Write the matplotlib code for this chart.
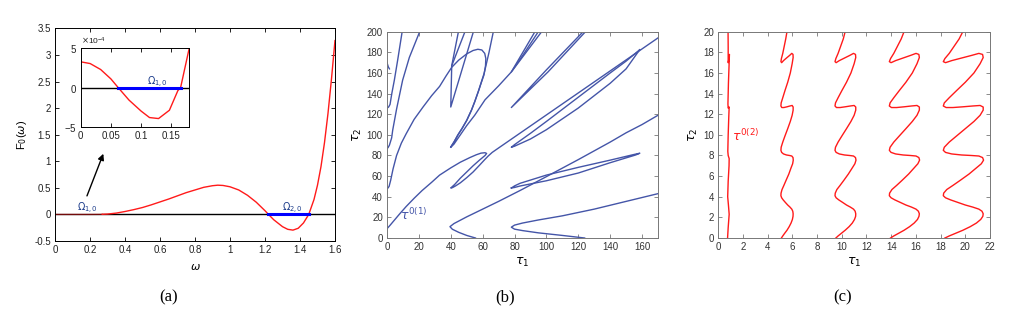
import matplotlib.pyplot as plt
import matplotlib.ticker as mticker

plt.rcParams["font.family"] = ["Liberation Sans", "DejaVu Sans"]
plt.rcParams["axes.unicode_minus"] = False
plt.rcParams["font.size"] = 7

# ---------------- panel (a): F0(omega) ----------------
omega = [0, 0.1, 0.2, 0.27, 0.3, 0.35, 0.4, 0.45, 0.5, 0.55, 0.6, 0.65, 0.7,
         0.75, 0.8, 0.85, 0.9, 0.93, 0.96, 1.0, 1.05, 1.1, 1.15, 1.2, 1.22,
         1.25, 1.3, 1.33, 1.36, 1.39, 1.42, 1.45, 1.48, 1.5, 1.52, 1.54,
         1.56, 1.58, 1.6]
f0 = [0, 0, 0, 0.003, 0.007, 0.025, 0.055, 0.09, 0.13, 0.18, 0.235, 0.29,
      0.35, 0.41, 0.46, 0.51, 0.54, 0.55, 0.545, 0.52, 0.46, 0.36, 0.23,
      0.07, 0.0, -0.1, -0.23, -0.28, -0.295, -0.26, -0.16, 0.0, 0.28, 0.55,
      0.9, 1.35, 1.9, 2.55, 3.27]
omega_20 = [1.22, 1.45]

inset_omega = [0, 0.0156, 0.033, 0.05, 0.062, 0.08, 0.1, 0.114, 0.129,
               0.147, 0.161, 0.1656, 0.18]
inset_f0 = [3.28e-4, 3.06e-4, 2.3e-4, 1.1e-4, 0.0, -1.6e-4, -3.0e-4,
            -3.83e-4, -3.96e-4, -2.9e-4, -0.4e-4, 0.0, 5.06e-4]
omega_10 = [0.062, 0.1656]

# ---------------- panel (b): tau^{0(1)} curves ----------------
b_a_t1 = [0, 2, 5, 8, 12, 17, 22, 28, 33, 40, 46, 52, 56, 59, 61.5, 62.5,
          61.5, 58, 54, 50, 46, 42.5, 40.5, 40, 41, 43, 46, 50, 54, 58, 61,
          63.5, 66, 70, 170]
b_a_t2 = [9, 12.5, 18, 23.5, 30.5, 38.5, 46, 54, 61, 68, 73.5, 78, 80.7,
          82.3, 82.7, 82, 80, 75.5, 70, 64, 58, 52, 49.2, 48.5, 48.8, 50.5,
          53.5, 58.5, 64, 70.5, 75.5, 79.5, 83, 87.3, 194]

b_b_t1 = [0, 0.5, 1.3, 2.3, 3.8, 6, 9, 12, 17, 22.6, 28, 33, 37, 40.6, 45,
          50, 54, 57, 59.5, 61.3, 62, 61.8, 60.8, 59, 57.5, 55, 53, 50, 47,
          44.5, 42, 40.5, 40, 42, 46, 50, 55, 61.5, 70, 78, 86, 94.9]
b_b_t2 = [48, 48.3, 50, 56, 67, 80, 92, 101, 115, 127, 138, 147, 157, 165.5,
          172.5, 178.5, 181.8, 183, 182.3, 179, 174, 167, 158, 150, 143, 132,
          124, 114, 106, 100, 93, 89.5, 88, 91, 100, 109, 119, 134, 147.5,
          161, 179, 200]

b_c_t1 = [0, 0.6, 1.5, 2.9, 3.6, 6, 9.8, 14, 20.5]
b_c_t2 = [87, 87.5, 90, 97, 104.8, 125, 153, 175, 200]

b_d_t1 = [0, 0.4, 1.0, 1.9, 3, 4.6, 6.7, 9.5]
b_d_t2 = [126, 126.3, 127, 129.5, 140, 153, 172.6, 200]

b_e_t1 = [0, 0.8, 1.5]
b_e_t2 = [170, 166, 164]

b_f_t1 = [44.8, 40.6, 40, 54.2]
b_f_t2 = [200, 167, 127, 200]

b_g_t1 = [40.6, 48.9]
b_g_t2 = [167, 200]

b_h_t1 = [40, 42, 44.5, 47, 50, 53, 55, 57.5, 61, 64, 66.7]
b_h_t2 = [88, 93, 100, 106, 114, 124, 132, 143, 160, 180, 200]

b_i_t1 = [92.8, 78, 97]
b_i_t2 = [200, 161, 200]

b_j_t1 = [123, 100, 78, 101, 124.5]
b_j_t2 = [200, 163, 126.5, 161, 200]

b_k_t1 = [158.5, 150, 140, 120, 100, 90, 80, 78, 80, 90, 100, 120, 140, 150,
          158.5]
b_k_t2 = [182.5, 171.5, 160, 136.5, 113, 101.5, 90.5, 88, 89, 96, 105, 126,
          150, 164, 182.5]

b_l_t1 = [78, 80, 83.4, 100, 120, 140, 155, 158.6, 156, 140, 120, 100, 83.4,
          80, 78]
b_l_t2 = [48.5, 50.5, 53, 61, 68.5, 75.5, 81, 82.2, 80.5, 73, 63, 55.5, 50.4,
          49, 48.5]

b_m_t1 = [55.5, 50, 45, 41, 39.5, 42, 50, 60, 70, 83.4, 100, 120, 140, 150,
          160, 170]
b_m_t2 = [0, 2.5, 5.5, 8.5, 11, 14, 20.5, 28, 35.5, 46, 59.5, 76, 93, 102,
          110, 119]

b_n_t1 = [124, 110, 95, 85, 80, 78, 80, 85, 95, 110, 130, 150, 170]
b_n_t2 = [0, 2.5, 5, 7.2, 8.6, 10.5, 12.5, 14.5, 17.5, 21.5, 28, 35.5, 43]

# ---------------- panel (c): tau^{0(2)} curves ----------------
c_t2 = [0, 0.2, 0.45, 0.75, 1.1, 1.45, 1.8, 2.1, 2.35, 2.6, 2.8, 3.0, 3.2,
        3.45, 3.7, 3.9, 4.1, 4.35, 4.7, 5.1, 5.6, 6.2, 6.8, 7.2, 7.55, 7.8,
        7.95, 8.0, 8.05, 8.15, 8.3, 8.5, 8.8, 9.3, 9.9, 10.6, 11.3, 11.9,
        12.4, 12.7, 12.85, 12.8, 12.72, 12.65, 12.65, 12.8, 13.1, 13.6, 14.3,
        15.1, 16.0, 16.9, 17.5, 17.8, 17.9, 17.7, 17.45, 17.2, 17.0, 17.1,
        17.4, 17.9, 18.6, 19.3, 20.0]

c1_t1 = [0.75, 0.8, 0.88, 0.82, 0.76, 0.8, 0.87, 0.88, 0.8, 0.77, 0.8, 0.85,
         0.88, 0.8, 0.78, 0.82, 0.87, 0.9, 0.85, 0.8, 0.8, 0.79]
c1_t2 = [0, 1.0, 2.3, 3.2, 4.0, 5.5, 7.0, 7.7, 8.0, 8.4, 10, 11.8, 12.7,
         12.6, 13.0, 15, 16.7, 17.8, 17.3, 17.0, 18.5, 20]

c2_t1 = [5.11, 5.22, 5.37, 5.56, 5.74, 5.89, 6.0, 6.05, 6.06, 6.03, 5.95,
         5.8, 5.62, 5.43, 5.25, 5.13, 5.07, 5.08, 5.16, 5.31, 5.49, 5.71,
         5.89, 6.02, 6.07, 6.05, 5.95, 5.77, 5.52, 5.28, 5.13, 5.07, 5.09,
         5.22, 5.40, 5.62, 5.83, 5.98, 6.06, 6.06, 5.98, 5.8, 5.56, 5.31,
         5.14, 5.07, 5.09, 5.22, 5.40, 5.62, 5.83, 5.98, 6.06, 6.05, 5.95,
         5.77, 5.52, 5.28, 5.13, 5.07, 5.11, 5.22, 5.34, 5.46, 5.56]

c3_t1 = [9.52, 9.70, 9.96, 10.27, 10.59, 10.85, 11.03, 11.12, 11.13, 11.08,
         10.95, 10.69, 10.38, 10.07, 9.75, 9.54, 9.45, 9.47, 9.6, 9.86, 10.17,
         10.53, 10.85, 11.06, 11.15, 11.11, 10.95, 10.64, 10.22, 9.80, 9.54,
         9.45, 9.49, 9.70, 10.01, 10.38, 10.74, 11.0, 11.13, 11.13, 11.0,
         10.69, 10.27, 9.86, 9.57, 9.45, 9.49, 9.70, 10.01, 10.38, 10.74,
         11.0, 11.13, 11.11, 10.95, 10.64, 10.22, 9.80, 9.54, 9.45, 9.52,
         9.70, 9.91, 10.12, 10.27]

c4_t1 = [13.95, 14.21, 14.59, 15.04, 15.49, 15.86, 16.13, 16.25, 16.28,
         16.2, 16.01, 15.64, 15.19, 14.74, 14.29, 13.99, 13.85, 13.87, 14.06,
         14.44, 14.89, 15.41, 15.86, 16.16, 16.3, 16.24, 16.01, 15.56, 14.96,
         14.36, 13.99, 13.85, 13.91, 14.21, 14.66, 15.19, 15.71, 16.09, 16.28,
         16.28, 16.09, 15.64, 15.04, 14.44, 14.02, 13.85, 13.91, 14.21, 14.66,
         15.19, 15.71, 16.09, 16.28, 16.24, 16.01, 15.56, 14.96, 14.36, 13.99,
         13.85, 13.95, 14.21, 14.51, 14.81, 15.04]

c5_t1 = [18.35, 18.7, 19.2, 19.8, 20.4, 20.9, 21.25, 21.42, 21.45, 21.35,
         21.1, 20.6, 20.0, 19.4, 18.8, 18.4, 18.22, 18.25, 18.5, 19.0, 19.6,
         20.3, 20.9, 21.3, 21.48, 21.4, 21.1, 20.5, 19.7, 18.9, 18.4, 18.22,
         18.3, 18.7, 19.3, 20.0, 20.7, 21.2, 21.45, 21.45, 21.2, 20.6, 19.8,
         19.0, 18.45, 18.22, 18.3, 18.7, 19.3, 20.0, 20.7, 21.2, 21.45, 21.4,
         21.1, 20.5, 19.7, 18.9, 18.4, 18.22, 18.35, 18.7, 19.1, 19.5, 19.8]

blue_b = "#4455a8"
red_line = "#ff1a1a"
omega_label = "#1a3a8a"
fmt = mticker.FormatStrFormatter("%g")


def style_box(ax, edge, label_color):
    ax.tick_params(direction="in", top=True, right=True, length=3, width=0.6,
                   colors=edge, labelcolor=label_color, pad=3)
    for sp in ax.spines.values():
        sp.set_color(edge)
        sp.set_linewidth(0.7)


fig = plt.figure(figsize=(10.26, 3.16), dpi=100)

# ---- (a)
ax_a = fig.add_axes([0.0536, 0.2373, 0.2729, 0.673])
ax_a.axhline(0, color="black", lw=1)
# the flat start of the curve lies on the zero line and looks faded there
ax_a.plot(omega[:4], f0[:4], color=red_line, lw=1, alpha=0.45)
ax_a.plot(omega[3:], f0[3:], color=red_line, lw=1)
ax_a.plot(omega_20, [0, 0], color="#0000ff", lw=2.2)
ax_a.set_xlim(0, 1.6)
ax_a.set_ylim(-0.5, 3.5)
ax_a.set_xticks([0, 0.2, 0.4, 0.6, 0.8, 1, 1.2, 1.4, 1.6])
ax_a.set_yticks([-0.5, 0, 0.5, 1, 1.5, 2, 2.5, 3, 3.5])
ax_a.xaxis.set_major_formatter(fmt)
ax_a.yaxis.set_major_formatter(fmt)
style_box(ax_a, "black", "#222222")
ax_a.set_xlabel(r"$\omega$", fontsize=8, labelpad=5)
ax_a.set_ylabel(r"F$_0$($\omega$)", fontsize=8, labelpad=4)
ax_a.text(0.125, 0.07, r"$\Omega_{1{,}0}$", color=omega_label, fontsize=7)
ax_a.text(1.3, 0.07, r"$\Omega_{2{,}0}$", color=omega_label, fontsize=7)
ax_a.annotate("", xy=(0.282, 1.19), xytext=(0.177, 0.3),
              arrowprops=dict(arrowstyle="-|>", color="black", lw=1,
                              mutation_scale=9))

ax_in = fig.add_axes([0.0787, 0.599, 0.1058, 0.248])
ax_in.axhline(0, color="black", lw=1)
ax_in.plot(inset_omega, inset_f0, color=red_line, lw=1)
ax_in.plot(omega_10, [0, 0], color="#0000ff", lw=2.2)
ax_in.set_xlim(0, 0.18)
ax_in.set_ylim(-5e-4, 5e-4)
ax_in.set_xticks([0, 0.05, 0.1, 0.15])
ax_in.set_yticks([-5e-4, 0, 5e-4])
ax_in.xaxis.set_major_formatter(fmt)
sf = mticker.ScalarFormatter(useMathText=True)
sf.set_powerlimits((0, 0))
ax_in.yaxis.set_major_formatter(sf)
ax_in.yaxis.get_offset_text().set_fontsize(6)
style_box(ax_in, "black", "#222222")
ax_in.text(0.11, 0.3e-4, r"$\Omega_{1{,}0}$", color=omega_label, fontsize=7)

# ---- (b)
ax_b = fig.add_axes([0.3772, 0.2468, 0.2641, 0.6528])
for t1, t2 in [(b_a_t1, b_a_t2), (b_b_t1, b_b_t2), (b_c_t1, b_c_t2),
               (b_d_t1, b_d_t2), (b_e_t1, b_e_t2), (b_f_t1, b_f_t2),
               (b_g_t1, b_g_t2), (b_h_t1, b_h_t2), (b_i_t1, b_i_t2),
               (b_j_t1, b_j_t2), (b_k_t1, b_k_t2), (b_l_t1, b_l_t2),
               (b_m_t1, b_m_t2), (b_n_t1, b_n_t2)]:
    ax_b.plot(t1, t2, color=blue_b, lw=1)
ax_b.set_xlim(0, 170)
ax_b.set_ylim(0, 200)
ax_b.set_xticks(range(0, 161, 20))
ax_b.set_yticks(range(0, 201, 20))
style_box(ax_b, "#777777", "#333333")
ax_b.set_xlabel(r"$\tau_1$", fontsize=9, labelpad=3)
ax_b.set_ylabel(r"$\tau_2$", fontsize=9, labelpad=2)
ax_b.text(8, 17, r"$\tau^{0(1)}$", color=blue_b, fontsize=9)

# ---- (c)
ax_c = fig.add_axes([0.7001, 0.2468, 0.2648, 0.6528])
ax_c.plot(c1_t1, c1_t2, color=red_line, lw=1)
for t1 in [c2_t1, c3_t1, c4_t1, c5_t1]:
    ax_c.plot(t1, c_t2, color=red_line, lw=1)
ax_c.set_xlim(0, 22)
ax_c.set_ylim(0, 20)
ax_c.set_xticks(range(0, 23, 2))
ax_c.set_yticks(range(0, 21, 2))
style_box(ax_c, "#777777", "#333333")
ax_c.set_xlabel(r"$\tau_1$", fontsize=9, labelpad=3)
ax_c.set_ylabel(r"$\tau_2$", fontsize=9, labelpad=2)
ax_c.text(1.1, 9.4, r"$\tau^{0(2)}$", color=red_line, fontsize=9)

for x, lab in [(0.164, "(a)"), (0.492, "(b)"), (0.821, "(c)")]:
    fig.text(x, 0.045, lab, ha="center", fontsize=12,
             family=["Liberation Serif", "DejaVu Serif"])

fig.savefig("out.png", dpi=100)
